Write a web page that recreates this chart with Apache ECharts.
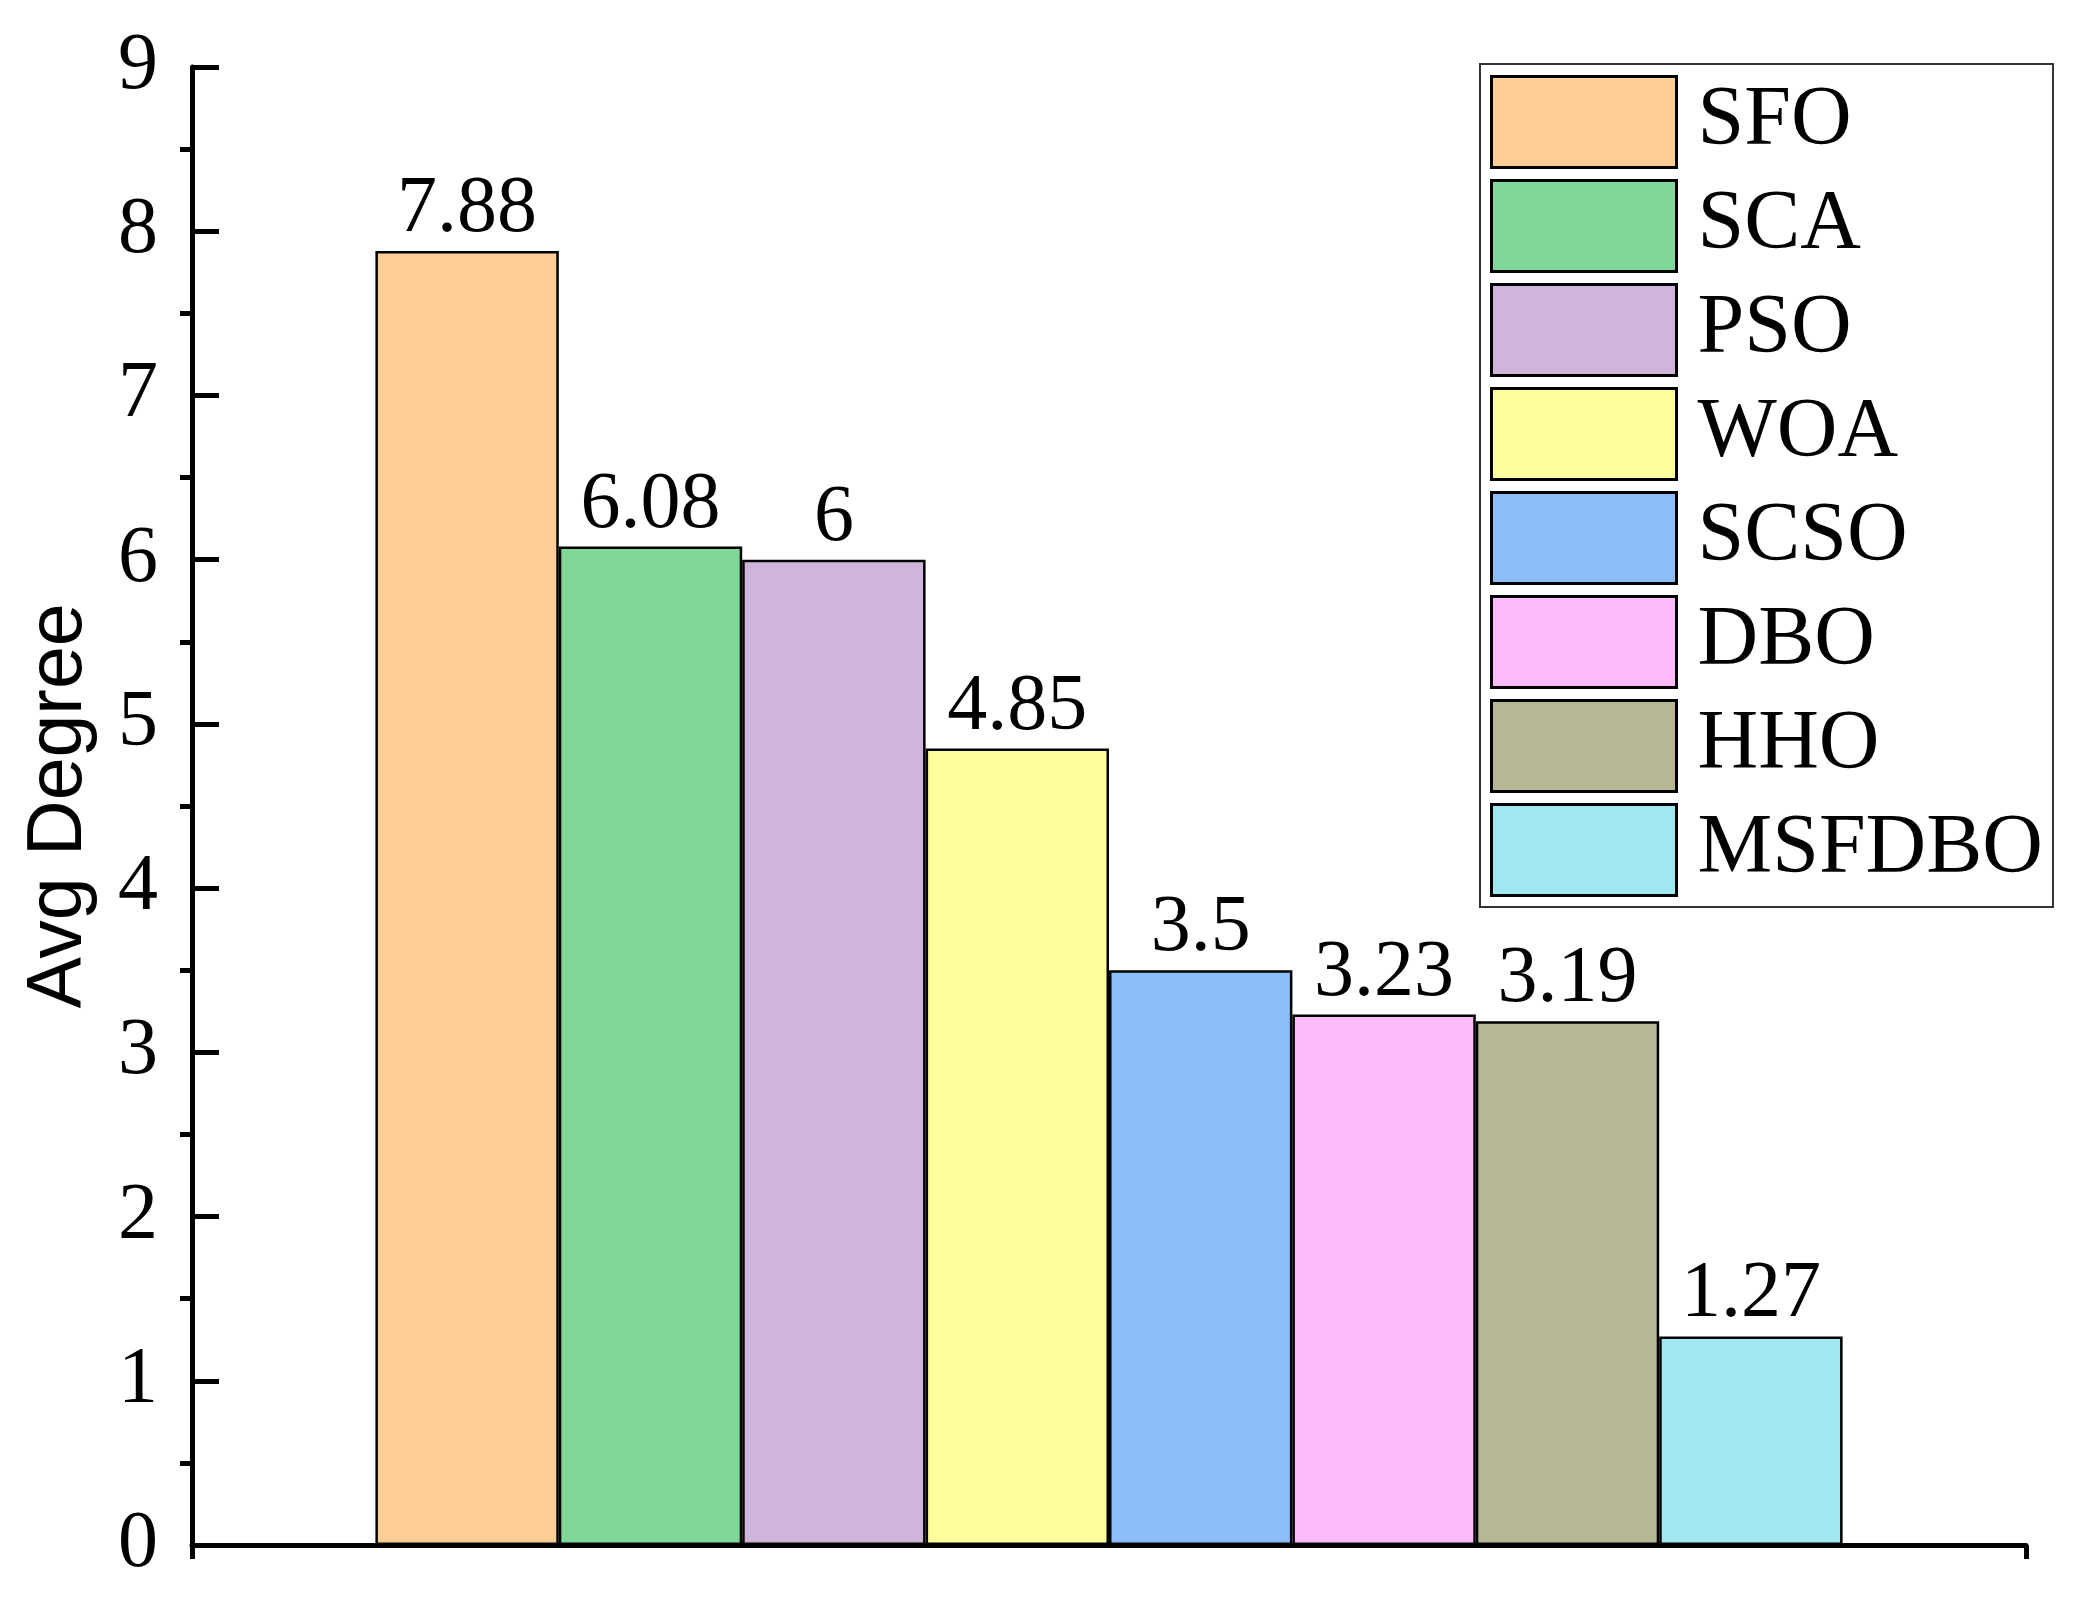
<!DOCTYPE html>
<html>
<head>
<meta charset="utf-8">
<title>Avg Degree</title>
<script src="https://cdn.jsdelivr.net/npm/echarts@6/dist/echarts.min.js"></script>
<style>
    html, body { margin: 0; padding: 0; background: #fff; }
    #chart { width: 2082px; height: 1623px; }
</style>
</head>
<body>
<div id="chart"></div>
<script>
// 算法名称和平均度数
var names = ['SFO', 'SCA', 'PSO', 'WOA', 'SCSO', 'DBO', 'HHO', 'MSFDBO'];
var values = [7.88, 6.08, 6, 4.85, 3.5, 3.23, 3.19, 1.27];
var colors = ['#FECE94', '#7FD898', '#CEB5D9', '#FEFE9D', '#8DBDF8', '#FDBBFC', '#B8B794', '#A0E8F1'];
var yTicks = [0, 1, 2, 3, 4, 5, 6, 7, 8, 9];

var chart = echarts.init(document.getElementById('chart'));

var serif = "'Liberation Serif', 'Times New Roman', serif";

var series = names.map(function (name, i) {
    return {
        name: name,
        type: 'bar',
        data: [values[i]],
        barGap: '0%',
        barCategoryGap: '20%',
        itemStyle: {
            color: colors[i],
            borderColor: '#000',
            borderWidth: 2.5
        },
        label: {
            show: true,
            position: 'top',
            distance: 1,
            color: '#000',
            fontFamily: serif,
            fontSize: 80
        }
    };
});

var option = {
    backgroundColor: '#fff',
    animation: false,
    grid: {
        left: 192,
        right: 56,
        top: 67,
        bottom: 78
    },
    legend: {
        data: names,
        orient: 'vertical',
        left: 1480,
        top: 64,
        itemWidth: 185,
        itemHeight: 91,
        itemGap: 10,
        padding: [11, 10, 10, 10],
        borderColor: '#333',
        borderWidth: 2,
        icon: 'rect',
        itemStyle: {
            borderColor: '#000',
            borderWidth: 3
        },
        textStyle: {
            fontFamily: serif,
            fontSize: 84,
            lineHeight: 86,
            color: '#000',
            padding: [0, 0, 0, 16]
        }
    },
    xAxis: {
        type: 'category',
        data: [''],
        axisLine: { lineStyle: { color: '#000', width: 5 } },
        axisTick: {
            show: true,
            inside: false,
            length: 14,
            lineStyle: { color: '#000', width: 5 }
        },
        axisLabel: { show: false },
        splitLine: { show: false }
    },
    yAxis: {
        type: 'value',
        min: yTicks[0],
        max: yTicks[yTicks.length - 1],
        interval: 1,
        name: 'Avg Degree',
        nameLocation: 'middle',
        nameGap: 94,
        nameTextStyle: {
            fontFamily: 'Liberation Sans',
            fontSize: 77,
            color: '#000'
        },
        axisLine: { show: true, lineStyle: { color: '#000', width: 5 } },
        axisTick: {
            show: true,
            inside: true,
            length: 27,
            lineStyle: { color: '#000', width: 5 }
        },
        minorTick: {
            show: true,
            splitNumber: 2,
            length: -12,
            lineStyle: { color: '#000', width: 5 }
        },
        axisLabel: {
            margin: 34,
            color: '#000',
            fontFamily: serif,
            fontSize: 80
        },
        splitLine: { show: false },
        minorSplitLine: { show: false }
    },
    series: series
};

chart.setOption(option);
</script>
</body>
</html>
